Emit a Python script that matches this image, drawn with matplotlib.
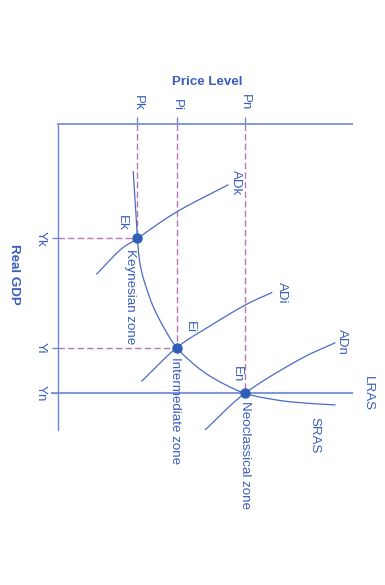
import matplotlib
matplotlib.use("Agg")
import matplotlib.pyplot as plt
import numpy as np

# ---- data (price level on horizontal axis, real GDP downward) ----
price_ticks = [27.0, 40.4, 63.6]
price_labels = ["Pk", "Pi", "Pn"]
gdp_ticks = [37.4, 73.1, 88.0]
gdp_labels = ["Yk", "Yi", "Yn"]

sras_p = [25.6, 26.4, 27.0, 27.7, 28.7, 30.3, 32.3, 35.8, 40.4, 47.2, 54.0, 63.6, 74.4, 84.0, 94.2]
sras_y = [15.6, 28.1, 37.4, 44.4, 49.3, 54.2, 59.5, 66.2, 73.1, 79.3, 83.7, 88.0, 90.2, 91.2, 91.8]

adk_p = [13.2, 21.1, 27.0, 40.4, 57.8]
adk_y = [49.0, 41.2, 37.4, 28.7, 19.9]
adi_p = [28.5, 40.4, 51.7, 63.6, 72.7]
adi_y = [84.0, 73.1, 66.0, 59.2, 55.1]
adn_p = [50.0, 63.6, 81.7, 94.2]
adn_y = [100.0, 88.0, 77.2, 71.5]

eq_labels = ["Ek", "Ei", "En"]
zone_labels = ["Keynesian zone", "Intermediate zone", "Neoclassical zone"]

TXT = "#3a5dbd"
LINE = "#4a6bc4"
DASH = "#b877b0"
SPINE = "#6f88cf"
PT = "#2f5fb5"
FS = 9.6

plt.rcParams['font.family'] = ['Liberation Sans', 'DejaVu Sans']


def smooth(xs, ys, n=20):
    """Uniform Catmull-Rom rendering through the given points."""
    P = np.column_stack([xs, ys]).astype(float)
    P = np.vstack([2 * P[0] - P[1], P, 2 * P[-1] - P[-2]])
    out = []
    tt = np.linspace(0, 1, n, endpoint=False)[:, None]
    for i in range(1, len(P) - 2):
        p0, p1, p2, p3 = P[i - 1], P[i], P[i + 1], P[i + 2]
        seg = 0.5 * ((2 * p1) + (-p0 + p2) * tt + (2 * p0 - 5 * p1 + 4 * p2 - p3) * tt ** 2
                     + (-p0 + 3 * p1 - 3 * p2 + p3) * tt ** 3)
        out.append(seg)
    out.append(P[-2][None, :])
    out = np.vstack(out)
    return out[:, 0], out[:, 1]


fig = plt.figure(figsize=(3.85, 5.85), dpi=100)
ax = fig.add_axes([58/385, 1-430/585, (352-58)/385, (430-124)/585])
ax.set_xlim(0, 100)
ax.set_ylim(100, 0)

for s in ["right", "bottom"]:
    ax.spines[s].set_visible(False)
ax.spines["top"].set_color("#8099d6")
ax.spines["top"].set_linewidth(1.4)
ax.spines["left"].set_color(SPINE)
ax.spines["left"].set_linewidth(1.0)

ax.xaxis.tick_top()
ax.set_xticks(price_ticks)
ax.set_xticklabels(price_labels, rotation=-90, color=TXT, fontsize=FS)
ax.tick_params(axis="x", length=5, width=1, color=SPINE, pad=4.5)
ax.set_yticks(gdp_ticks)
ax.set_yticklabels(gdp_labels, rotation=-90, color=TXT, fontsize=FS, va="center")
ax.tick_params(axis="y", length=4.3, width=1, color=SPINE, pad=3.5)

# dashed guide lines
dash_kw = dict(color=DASH, lw=1.0, dashes=(4.6, 2.3))
for p, y in zip(price_ticks, gdp_ticks):
    ax.plot([p, p], [0, y], **dash_kw)
for p, y in zip(price_ticks[:2], gdp_ticks[:2]):
    ax.plot([0, p], [y, y], **dash_kw)

# LRAS
ax.plot([-2.0, 100], [gdp_ticks[2], gdp_ticks[2]], color="#8099d6", lw=1.5, clip_on=False)

# curves
for xs, ys in [(sras_p, sras_y), (adk_p, adk_y), (adi_p, adi_y), (adn_p, adn_y)]:
    sx, sy = smooth(xs, ys)
    ax.plot(sx, sy, color=LINE, lw=0.9)

# equilibrium points
ax.plot(price_ticks, gdp_ticks, "o", color=PT, ms=6.5, zorder=5)

def t(x, y, s, **kw):
    ax.text(x, y, s, rotation=-90, ha="center", va="center", color=TXT,
            fontsize=FS, clip_on=False, **kw)

t(21.8, 32.4, eq_labels[0])
t(44.9, 66.5, eq_labels[1])
t(60.8, 81.7, eq_labels[2])
t(24.5, 56.5, zone_labels[0])
t(39.8, 93.5, zone_labels[1])
t(63.6, 108.2, zone_labels[2])
t(60.5, 19.1, "ADk")
t(76.1, 55.3, "ADi")
t(96.5, 71.1, "ADn")
t(105.3, 88.2, "LRAS")
t(87.1, 101.6, "SRAS")

ax.text(50.7, -13.7, "Price Level", ha="center", va="center", color=TXT,
        fontsize=FS, fontweight="bold", clip_on=False)
ax.text(-15.0, 49.0, "Real GDP", rotation=-90, ha="center", va="center",
        color=TXT, fontsize=FS, fontweight="bold", clip_on=False)

fig.savefig("out.png", dpi=100)
